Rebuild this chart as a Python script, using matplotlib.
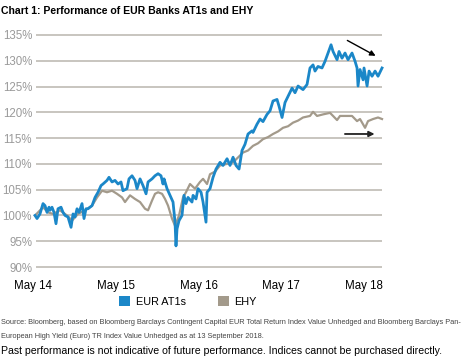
import numpy as np
import matplotlib
matplotlib.use("Agg")
import matplotlib.pyplot as plt
from matplotlib.patches import Patch

plt.rcParams['font.family'] = ['Liberation Sans', 'DejaVu Sans']

# months since May 2014
at1_x = [0.29, 0.58, 1.01, 1.45, 1.74, 2.03, 2.32, 2.46, 2.75, 3.04, 3.33, 3.62, 4.06, 4.35,
         4.64, 5.07, 5.51, 5.80, 6.09, 6.38, 6.67, 7.10, 7.39, 7.68, 7.97, 8.55, 8.99, 9.42,
         9.86, 10.14, 10.72, 11.01, 11.45, 11.88, 12.32, 12.75, 13.04, 13.62, 13.91, 14.35,
         14.78, 15.07, 15.51, 15.94, 16.38, 16.67, 17.25, 17.68, 18.12, 18.55, 18.84, 18.99,
         19.42, 19.86, 20.29, 20.58, 20.72, 20.87, 21.16, 21.59, 21.88, 22.17, 22.46, 23.04,
         23.19, 23.62, 23.91, 24.35, 24.64, 25.07, 25.22, 25.65, 26.09, 26.52, 27.10, 27.54,
         28.12, 28.55, 28.99, 29.42, 29.86, 30.29, 30.72, 31.16, 31.74, 31.88, 32.46, 32.90,
         33.33, 33.91, 34.35, 34.78, 35.36, 35.65, 36.09, 36.52, 36.96, 37.54, 37.97, 38.41,
         39.13, 39.71, 40.14, 40.58, 40.87, 41.30, 41.88, 42.32, 42.75, 43.19, 43.48, 44.06,
         44.35, 44.78, 45.22, 45.65, 46.23, 46.67, 46.96, 47.10, 47.39, 47.83, 47.97, 48.41,
         48.70, 49.13, 49.57, 50.00, 50.58]
at1_y = [100, 99.4, 100.3, 102.3, 101.9, 100.6, 101.6, 101, 101.6, 100.6, 98.4, 101.3, 101.6, 100.6,
         100, 99.7, 97.7, 100.3, 99.7, 101.3, 100.6, 102.3, 99.4, 101.3, 101.3, 101.9, 103.5, 104.5,
         105.8, 106.1, 106.8, 107.4, 106.5, 106.8, 106.1, 106.5, 104.8, 105.2, 107.1, 107.7,
         106.8, 105.2, 107.1, 105.8, 104.2, 106.5, 107.1, 107.7, 108.1, 107.7, 106.1, 107.1,
         105.2, 103.9, 102.6, 98.7, 94.1, 97.4, 99, 100, 103.9, 102.3, 103.5, 102.6,
         103.9, 103.2, 105.2, 104.5, 102.6, 98.7, 104.5, 105.2, 107.4, 109, 110.3, 109.7,
         111, 109.7, 111.3, 109.7, 109, 112.6, 113.8, 115.8, 116.4, 116.1, 117.7, 118.7,
         118.2, 119.6, 120.3, 122.2, 122.5, 121.2, 119, 121.9, 123.1, 124.7, 123.8, 125.1,
         124.4, 125.4, 128.6, 129.2, 128, 128.9, 128.6, 129.9, 131.5, 133.1, 131.8, 130.2,
         131.8, 130.5, 131.5, 130.2, 131.5, 129.9, 128.6, 125.1, 128.3, 126.3, 128.6, 125.1,
         128, 127, 128, 127, 128.6]

ehy_x = [0.29, 1.45, 2.17, 2.90, 3.91, 4.93, 5.65, 6.52, 7.54, 8.55, 9.28, 10.00, 10.72, 11.45,
         12.17, 12.90, 13.33, 14.06, 14.78, 15.51, 16.23, 16.67, 17.25, 17.68, 18.12, 18.70,
         19.13, 19.57, 20.14, 20.58, 21.16, 21.74, 22.17, 22.75, 23.48, 24.20, 24.64, 25.22,
         25.65, 26.38, 27.10, 28.12, 28.99, 30.43, 31.16, 31.88, 32.61, 33.33, 34.06, 34.78,
         35.51, 36.23, 36.96, 37.68, 38.41, 39.13, 40.14, 40.58, 41.16, 42.03, 43.04, 43.48,
         44.06, 44.49, 45.51, 46.23, 46.96, 47.39, 48.12, 48.55, 49.28, 50.00, 50.58]
ehy_y = [100, 101.6, 100.6, 100.3, 101, 100, 99, 100.3, 101, 101.9, 103.5, 104.8, 104.5, 104.8,
         104.2, 103.5, 102.6, 103.9, 103.2, 102.6, 101.3, 101, 102.9, 104.2, 104.5, 104.2,
         103.2, 101.9, 99.4, 98, 100, 103.5, 104.5, 106.1, 105.2, 106.5, 107.1, 106.1,
         108, 108.5, 109.7, 110, 110.3, 112.2, 112.6, 113.5, 114, 114.8, 115.2, 115.8,
         116.3, 117, 117.3, 118, 118.4, 119, 119.3, 120.1, 119.3, 119.6, 119.9, 119.3,
         118.5, 119.3, 119.3, 119.3, 118.3, 118.7, 117, 118.3, 118.7, 119, 118.7]

yticks = [90, 95, 100, 105, 110, 115, 120, 125, 130, 135]
xticks = [0, 12, 24, 36, 48]
xlabels = ['May 14', 'May 15', 'May 16', 'May 17', 'May 18']

blue = '#1b87c8'
tan = '#a39a8b'

fig = plt.figure(figsize=(4.74, 3.58), dpi=100)
ax = fig.add_axes([0.0551, 0.2397, 0.757, 0.677])

ax.hlines(yticks, 0.43, 50.6, color='#c4c0ba', lw=1.3, zorder=0)
ax.plot(ehy_x, ehy_y, color=tan, lw=1.6, zorder=2)
ax.plot(at1_x, at1_y, color=blue, lw=2.0, zorder=3)

# arrows
ax.annotate('', xy=(50.0, 130.7), xytext=(45.2, 134.2),
            arrowprops=dict(arrowstyle='-|>', color='black', lw=1.0, mutation_scale=8))
ax.annotate('', xy=(49.9, 115.8), xytext=(44.8, 115.8),
            arrowprops=dict(arrowstyle='-|>', color='#222222', lw=1.3, mutation_scale=8))

ax.set_xlim(-1, 51)
ax.set_ylim(89, 136)
ax.set_yticks(yticks)
ax.set_yticklabels([f'{v}%' for v in yticks], color='#9a9a9a', fontsize=8.3)
ax.set_xticks(xticks)
ax.set_xticklabels(xlabels, fontsize=8.3)
ax.tick_params(axis='y', length=0, pad=-4.3)
ax.tick_params(axis='x', length=0, pad=5.5)
for s in ax.spines.values():
    s.set_visible(False)

handles = [Patch(facecolor=blue, edgecolor='none', label='EUR AT1s'),
           Patch(facecolor=tan, edgecolor='none', label='EHY')]
fig.legend(handles=handles, loc='center', bbox_to_anchor=(0.397, 0.158), ncol=2,
           frameon=False, fontsize=7.8, handlelength=0.95, handleheight=0.95,
           handletextpad=0.55, columnspacing=3.0)

fig.text(0.003, 0.968, 'Chart 1: Performance of EUR Banks AT1s and EHY', fontsize=7.6,
         fontweight='bold', va='center', ha='left')
fig.text(0.003, 0.098, 'Source: Bloomberg, based on Bloomberg Barclays Contingent Capital EUR Total Return Index Value Unhedged and Bloomberg Barclays Pan-',
         fontsize=5.35, color='#444444', va='center', ha='left')
fig.text(0.003, 0.059, 'European High Yield (Euro) TR Index Value Unhedged as at 13 September 2018.',
         fontsize=5.35, color='#444444', va='center', ha='left')
fig.text(0.003, 0.020, 'Past performance is not indicative of future performance. Indices cannot be purchased directly.',
         fontsize=7.55, color='black', va='center', ha='left')

fig.savefig('out.png', dpi=100)
